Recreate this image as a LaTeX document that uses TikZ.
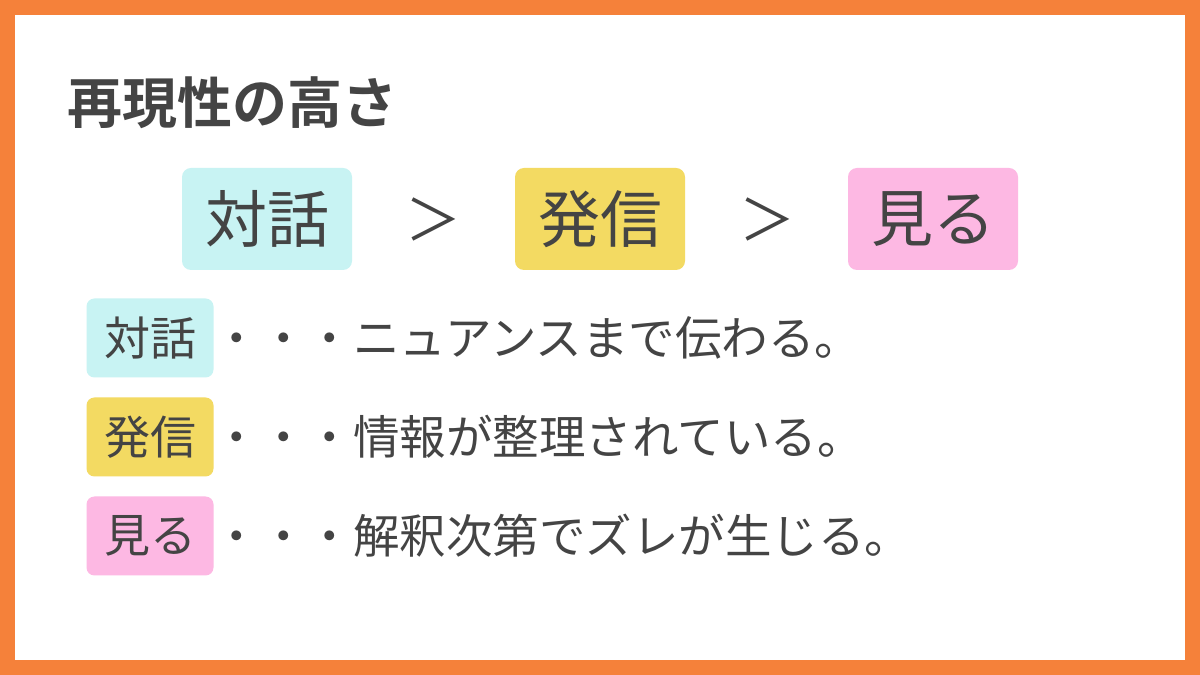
\documentclass[tikz,border=0pt]{standalone}
\usepackage{fontspec}
\newfontfamily\jp{Noto Sans CJK JP}
\newfontfamily\jpb{Noto Sans CJK JP Bold}
\definecolor{org}{HTML}{F5813A}
\definecolor{txt}{HTML}{444444}
\definecolor{cy}{HTML}{C8F3F3}
\definecolor{ye}{HTML}{F3DA62}
\definecolor{pk}{HTML}{FDB8E3}
\tikzset{big/.style={rounded corners=9pt,minimum width=170pt,minimum height=102pt,inner sep=0pt,text=txt,font=\jp\fontsize{62}{62}\selectfont},
small/.style={rounded corners=8pt,minimum width=127pt,minimum height=79pt,inner sep=0pt,text=txt,font=\jp\fontsize{46}{46}\selectfont},
line/.style={anchor=west,inner sep=0pt,text=txt,font=\jp\fontsize{46.5}{46}\selectfont},
gt/.style={text=txt,font=\jp\fontsize{56}{56}\selectfont}}
\begin{document}
\begin{tikzpicture}[x=1pt,y=1pt]
\fill[org] (0,0) rectangle (1200,675);
\fill[white] (15,15) rectangle (1185,660);
\node[anchor=west,inner sep=0pt,text=txt,font=\jpb\fontsize{55}{55}\selectfont] (title) at (67,572) {再現性の高さ};
\node[big,fill=cy] (b1) at (267,456) {対話};
\node[gt] (g1) at (433,456) {＞};
\node[big,fill=ye] (b2) at (600,456) {発信};
\node[gt] (g2) at (767,456) {＞};
\node[big,fill=pk] (b3) at (933,456) {見る};
\node[small,fill=cy] (s1) at (150,337) {対話};
\node[line] (l1) at (s1.east) {・・・ニュアンスまで伝わる。};
\node[small,fill=ye] (s2) at (150,238) {発信};
\node[line] (l2) at (s2.east) {・・・情報が整理されている。};
\node[small,fill=pk] (s3) at (150,139) {見る};
\node[line] (l3) at (s3.east) {・・・解釈次第でズレが生じる。};
\end{tikzpicture}
\end{document}
